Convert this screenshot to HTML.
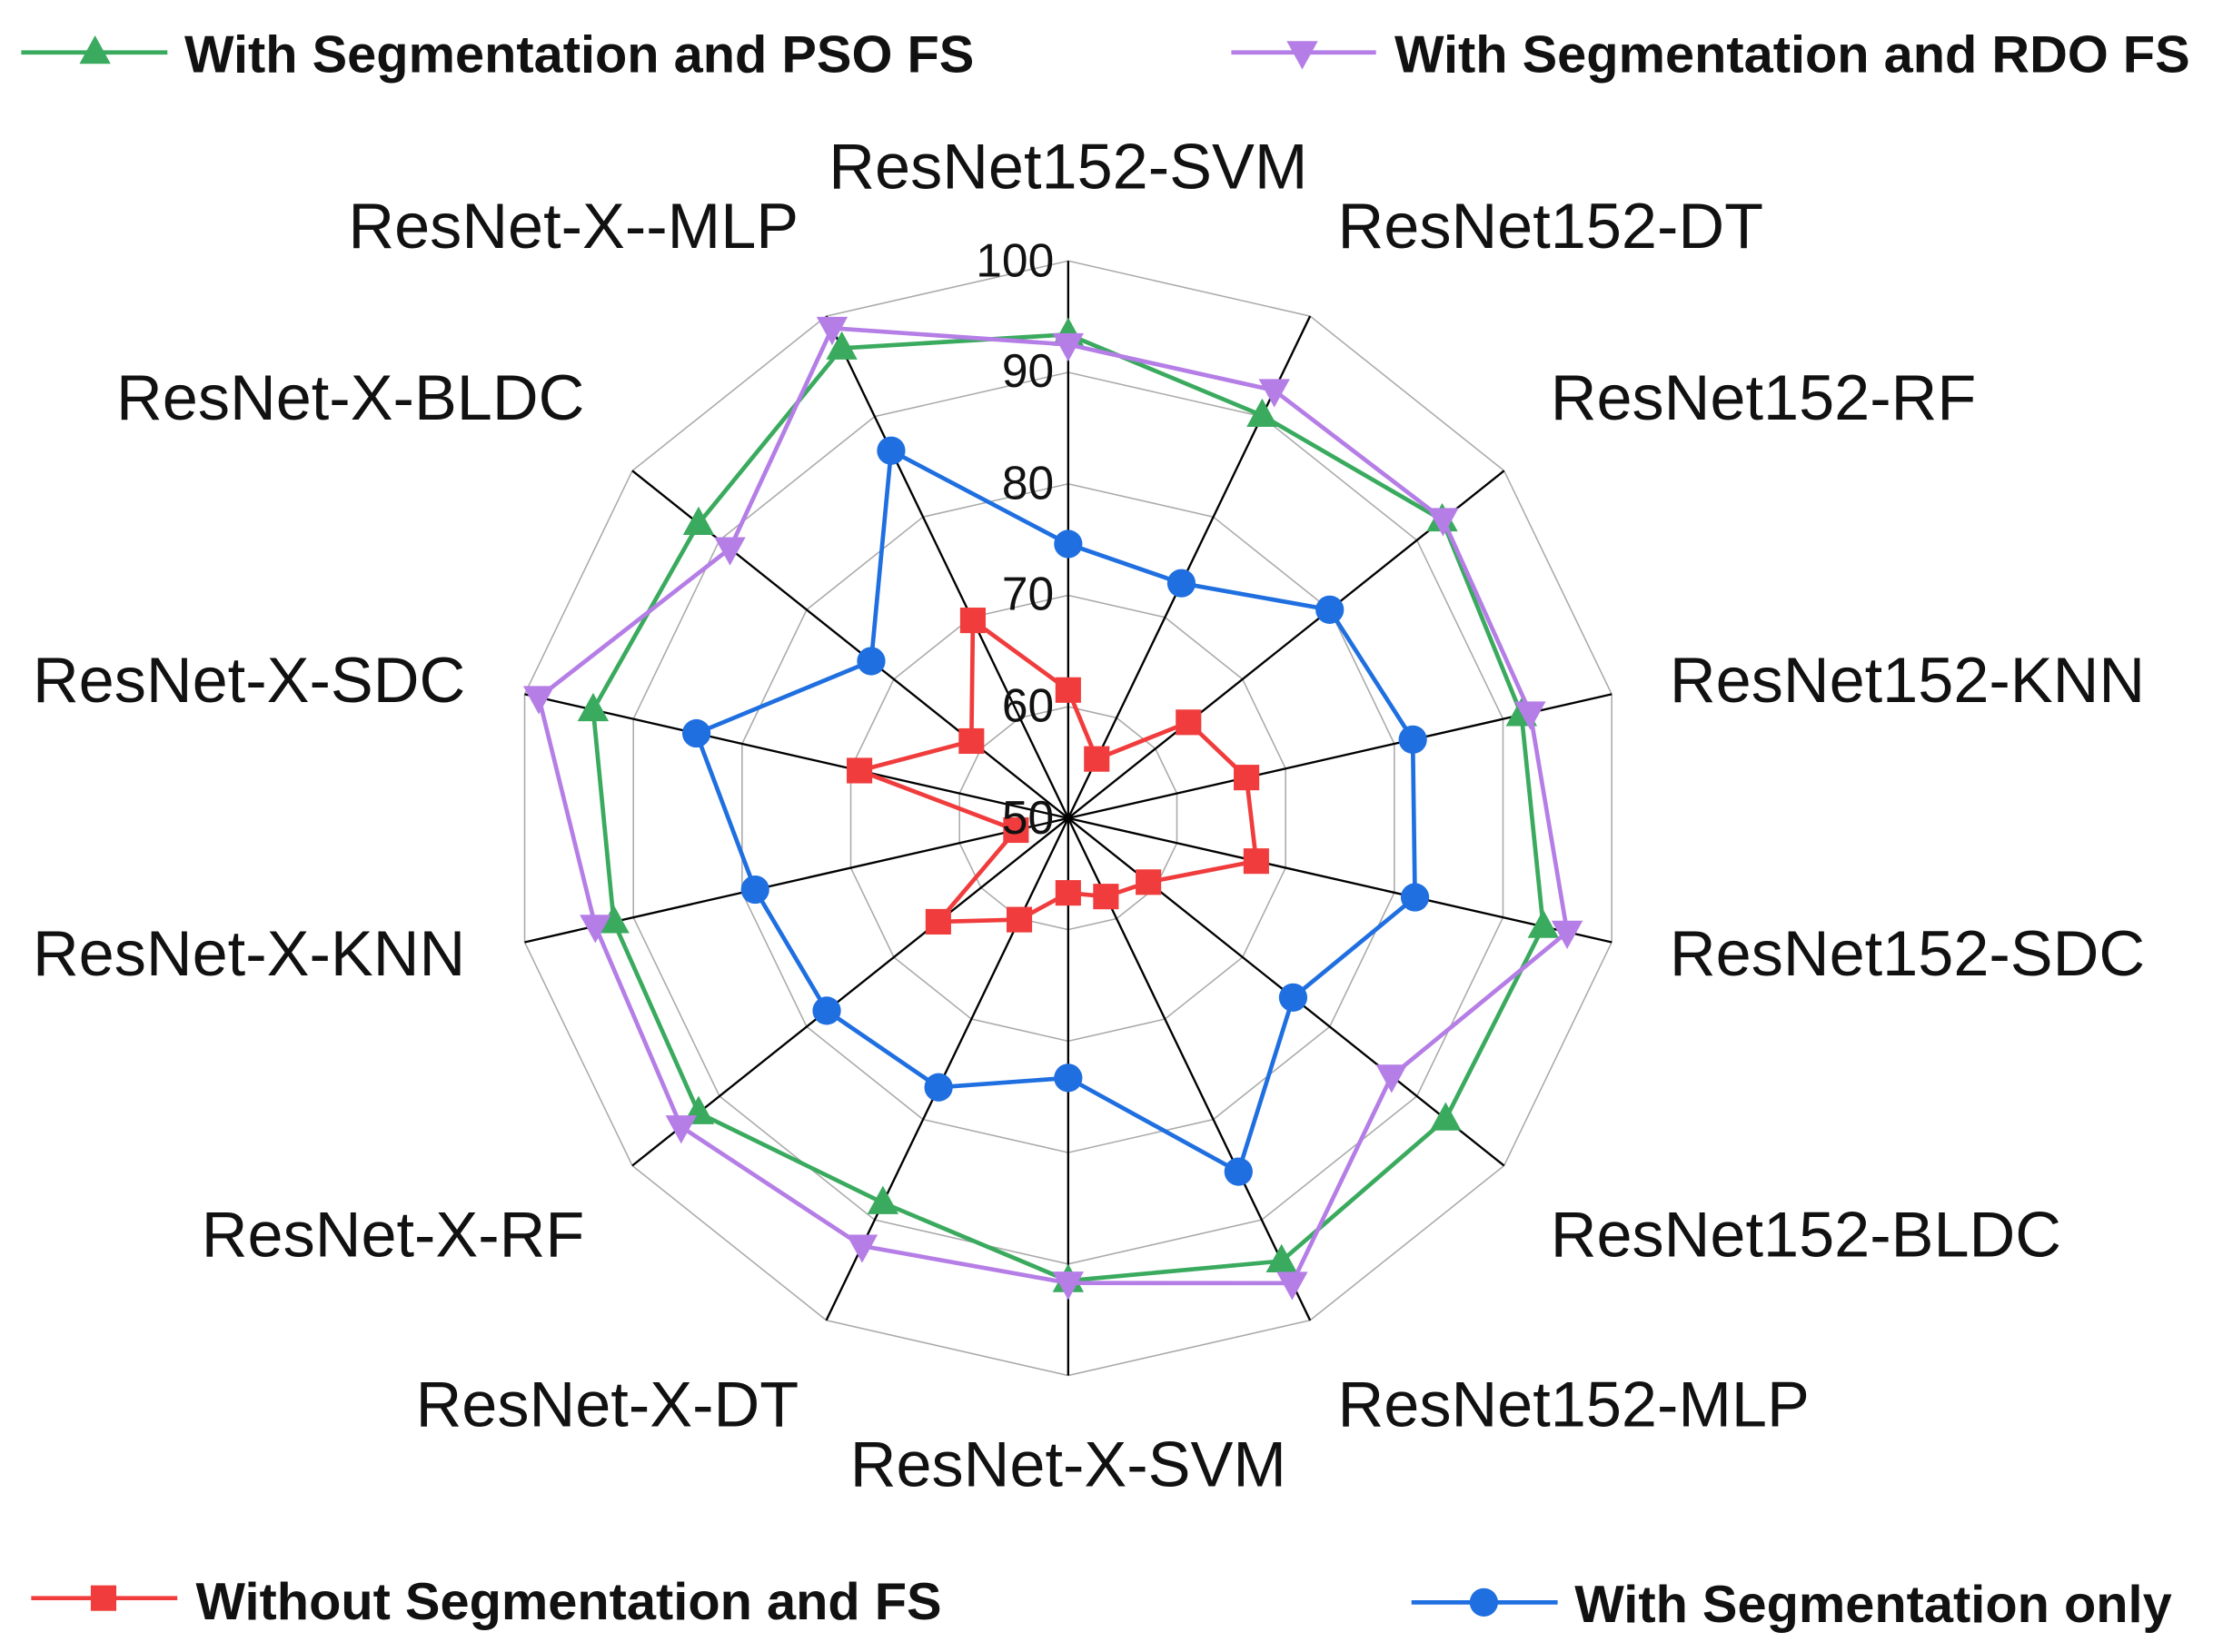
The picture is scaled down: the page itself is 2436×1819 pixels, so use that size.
<!DOCTYPE html>
<html><head><meta charset="utf-8"><style>
html,body{margin:0;padding:0;background:#fff;}
svg{display:block;}
text{font-family:"Liberation Sans",Arial,sans-serif;fill:#111;}
.ax{font-size:45px;}
.tk{font-size:33px;}
.lg{font-size:37px;font-weight:bold;}
</style></head><body>
<svg id="s" width="2436" height="1819" viewBox="0 0 1560 1165" preserveAspectRatio="none" xmlns="http://www.w3.org/2000/svg">
<g id="grid"></g>
<g id="series"></g>
<text class="tk" x="743" y="195" text-anchor="end">100</text>
<text class="tk" x="743" y="273" text-anchor="end">90</text>
<text class="tk" x="743" y="352" text-anchor="end">80</text>
<text class="tk" x="743" y="430" text-anchor="end">70</text>
<text class="tk" x="743" y="509" text-anchor="end">60</text>
<text class="tk" x="743" y="588" text-anchor="end">50</text>

<text class="ax" x="753" y="133" text-anchor="middle">ResNet152-SVM</text>
<text class="ax" x="943" y="175">ResNet152-DT</text>
<text class="ax" x="1093" y="296">ResNet152-RF</text>
<text class="ax" x="1177" y="495">ResNet152-KNN</text>
<text class="ax" x="1177" y="688">ResNet152-SDC</text>
<text class="ax" x="1093" y="886">ResNet152-BLDC</text>
<text class="ax" x="943" y="1006">ResNet152-MLP</text>
<text class="ax" x="753" y="1048" text-anchor="middle">ResNet-X-SVM</text>
<text class="ax" x="563" y="1006" text-anchor="end">ResNet-X-DT</text>
<text class="ax" x="412" y="886" text-anchor="end">ResNet-X-RF</text>
<text class="ax" x="328" y="688" text-anchor="end">ResNet-X-KNN</text>
<text class="ax" x="328" y="495" text-anchor="end">ResNet-X-SDC</text>
<text class="ax" x="412" y="296" text-anchor="end">ResNet-X-BLDC</text>
<text class="ax" x="563" y="175" text-anchor="end">ResNet-X--MLP</text>

<line x1="15" y1="37" x2="118" y2="37" stroke="#3aaa5e" stroke-width="3"/>
<polygon points="67,25 78,45 56,45" fill="#3aaa5e"/>
<text class="lg" x="130" y="51">With Segmentation and PSO FS</text>
<line x1="868" y1="37" x2="970" y2="37" stroke="#b57ee6" stroke-width="3"/>
<polygon points="907,29 929,29 918,49" fill="#b57ee6"/>
<text class="lg" x="983" y="51">With Segmentation and RDO FS</text>
<line x1="22" y1="1127" x2="125" y2="1127" stroke="#f03c3c" stroke-width="3"/>
<rect x="64" y="1118" width="18" height="18" fill="#f03c3c"/>
<text class="lg" x="138" y="1142">Without Segmentation and FS</text>
<line x1="995" y1="1130" x2="1098" y2="1130" stroke="#1f6fe0" stroke-width="3"/>
<circle cx="1046" cy="1130" r="10" fill="#1f6fe0"/>
<text class="lg" x="1110" y="1144">With Segmentation only</text>
</svg>
<script>
var cx=753,cy=577,R=393,N=14,NS="http://www.w3.org/2000/svg";
function pt(k,v){var a=k*2*Math.PI/N,r=(v-50)/50*R;return [cx+r*Math.sin(a),cy-r*Math.cos(a)];}
function el(t,at,p){var e=document.createElementNS(NS,t);for(var k in at)e.setAttribute(k,at[k]);p.appendChild(e);return e;}
var g=document.getElementById('grid');
[60,70,80,90,100].forEach(function(v){var ps=[];for(var k=0;k<N;k++)ps.push(pt(k,v).join(','));el('polygon',{points:ps.join(' '),fill:'none',stroke:'#aaa','stroke-width':1},g);});
for(var k=0;k<N;k++){var p=pt(k,100);el('line',{x1:cx,y1:cy,x2:p[0],y2:p[1],stroke:'#000','stroke-width':1.5},g);}
var S=[
{c:'#f03c3c',m:'sq',d:[61.5,55.9,63.8,66.4,67.3,59.2,57.8,56.7,60.1,64.9,54.8,69.2,61.1,69.7]},
{c:'#1f6fe0',m:'ci',d:[74.6,73.4,80,81.7,81.9,75.8,85.2,73.3,76.8,77.7,78.8,84.2,72.6,86.6]},
{c:'#3aaa5e',m:'up',d:[93.4,90.1,92.9,91.7,93.7,93.3,94.1,91.5,88.3,92.4,91.8,93.7,92.4,96.8]},
{c:'#b57ee6',m:'dn',d:[92.5,92.6,93,92.5,95.9,87.1,96.3,91.7,92.6,94.4,93.5,98.7,88.8,98.8]}];
var sg=document.getElementById('series');
S.forEach(function(s){var ps=s.d.map(function(v,k){return pt(k,v);});
el('polygon',{points:ps.map(function(p){return p.join(',');}).join(' '),fill:'none',stroke:s.c,'stroke-width':3},sg);
ps.forEach(function(p){var x=p[0],y=p[1];
if(s.m=='sq')el('rect',{x:x-9,y:y-9,width:18,height:18,fill:s.c},sg);
else if(s.m=='ci')el('circle',{cx:x,cy:y,r:10,fill:s.c},sg);
else if(s.m=='up')el('polygon',{points:[x,y-12,x+11,y+8,x-11,y+8].join(','),fill:s.c},sg);
else el('polygon',{points:[x-11,y-8,x+11,y-8,x,y+12].join(','),fill:s.c},sg);});});
</script>
</body></html>
